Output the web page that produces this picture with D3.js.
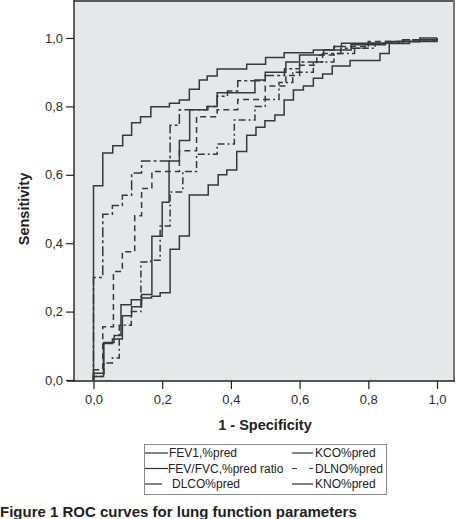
<!DOCTYPE html>
<html>
<head>
<meta charset="utf-8">
<script src="https://cdn.jsdelivr.net/npm/d3@7"></script>
<style>
  body { margin: 0; background: #fff; }
  svg { display: block; font-family: "Liberation Sans", Arial, sans-serif; }
</style>
</head>
<body>
<div id="chart"></div>
<script>
// ROC curves, points are [1 - specificity, sensitivity] after each vertical rise
const seriesNames = ["FEV1,%pred", "FEV/FVC,%pred ratio", "DLCO%pred", "KCO%pred", "DLNO%pred", "KNO%pred"];

const fev1 = [[0,0],[0,0.01],[0.029,0.107],[0.055,0.12],[0.084,0.188],[0.111,0.214],[0.14,0.24],[0.169,0.245],[0.194,0.255],[0.223,0.382],[0.25,0.421],[0.279,0.541],[0.334,0.57],[0.363,0.6],[0.388,0.614],[0.417,0.668],[0.446,0.716],[0.473,0.739],[0.499,0.758],[0.528,0.775],[0.555,0.819],[0.582,0.848],[0.611,0.86],[0.64,0.882],[0.667,0.895],[0.695,0.918],[0.747,0.934],[0.834,0.955],[0.861,0.984],[0.92,0.99],[1,1]];
const fevFvc = [[0,0],[0,0.30],[0.027,0.485],[0.055,0.51],[0.084,0.54],[0.111,0.605],[0.14,0.64],[0.223,0.745],[0.25,0.79],[0.333,0.80],[0.36,0.83],[0.39,0.845],[0.42,0.875],[0.5,0.89],[0.556,0.91],[0.6,0.93],[0.667,0.955],[0.72,0.97],[0.8,0.985],[0.9,0.995],[1,1]];
const dlco = [[0,0],[0,0.02],[0.03,0.11],[0.06,0.13],[0.08,0.22],[0.11,0.235],[0.14,0.25],[0.17,0.42],[0.2,0.52],[0.22,0.64],[0.25,0.70],[0.28,0.79],[0.33,0.80],[0.36,0.84],[0.47,0.877],[0.5,0.90],[0.56,0.93],[0.6,0.95],[0.67,0.965],[0.75,0.98],[0.85,0.99],[0.95,1],[1,1]];
const kco = [[0,0],[0,0.01],[0.03,0.05],[0.055,0.064],[0.075,0.16],[0.11,0.2],[0.138,0.345],[0.167,0.35],[0.194,0.45],[0.223,0.55],[0.26,0.61],[0.3,0.66],[0.36,0.69],[0.41,0.76],[0.47,0.80],[0.5,0.82],[0.54,0.87],[0.58,0.90],[0.64,0.93],[0.7,0.955],[0.76,0.97],[0.82,0.985],[0.9,0.995],[1,1]];
const dlno = [[0,0],[0,0.03],[0.027,0.156],[0.058,0.317],[0.084,0.375],[0.12,0.48],[0.14,0.56],[0.17,0.61],[0.25,0.67],[0.3,0.77],[0.36,0.79],[0.42,0.82],[0.5,0.86],[0.56,0.89],[0.6,0.92],[0.65,0.95],[0.7,0.975],[0.8,0.99],[0.9,0.995],[1,1]];
const kno = [[0,0],[0,0.568],[0.027,0.664],[0.056,0.685],[0.085,0.716],[0.111,0.752],[0.137,0.77],[0.167,0.799],[0.221,0.809],[0.25,0.819],[0.279,0.85],[0.308,0.877],[0.331,0.889],[0.36,0.909],[0.446,0.923],[0.501,0.943],[0.555,0.957],[0.64,0.965],[0.70,0.975],[0.722,0.985],[0.89,0.99],[0.95,0.995],[1,1]];

const seriesValues = [fev1, fevFvc, dlco, kco, dlno, kno];
const tickValues = [0, 0.2, 0.4, 0.6, 0.8, 1.0];

// styles per series (plot dash, legend dash)
const plotDash = [null, "10,3,3,3", null, "7,3,2,3", "6,4", null];
const legendDash = [null, null, null, null, "5,12", null];

const width = 474, height = 519;
const frame = { left: 74, right: 455, top: 0, bottom: 381 };

const svg = d3.select("#chart")
    .append("svg")
    .attr("width", width)
    .attr("height", height);

const x = d3.scaleLinear().domain([0, 1]).range([93.5, 437]);
const y = d3.scaleLinear().domain([0, 1]).range([380, 38]);

const locale = d3.formatLocale({ decimal: ",", thousands: ".", grouping: [3], currency: ["", ""] });
const fmt = locale.format(".1f");

// plot background
svg.append("rect")
    .attr("x", frame.left).attr("y", frame.top)
    .attr("width", frame.right - frame.left)
    .attr("height", frame.bottom - frame.top)
    .attr("fill", "#e6e7e9");

// top and right border (gray)
svg.append("line").attr("x1", frame.left).attr("x2", frame.right)
    .attr("y1", 1).attr("y2", 1).attr("stroke", "#5a5a5a").attr("stroke-width", 2);
svg.append("line").attr("x1", frame.right - 1).attr("x2", frame.right - 1)
    .attr("y1", 0).attr("y2", frame.bottom).attr("stroke", "#777").attr("stroke-width", 2);

// curves
const line = d3.line()
    .x(d => x(d[0]))
    .y(d => y(d[1]))
    .curve(d3.curveStepAfter);

svg.selectAll(".roc")
    .data(seriesValues)
    .enter().append("path")
    .attr("class", "roc")
    .attr("d", line)
    .attr("fill", "none")
    .attr("stroke", "#383838")
    .attr("stroke-width", 1.5)
    .attr("stroke-dasharray", (d, i) => plotDash[i]);

// X axis
const xAxis = svg.append("g")
    .attr("transform", `translate(0,${frame.bottom})`)
    .call(d3.axisBottom(x).tickValues(tickValues).tickFormat(fmt).tickSize(8).tickSizeOuter(0));
xAxis.select(".domain").remove();
xAxis.append("line").attr("x1", 67).attr("x2", frame.right)
    .attr("stroke", "#222").attr("stroke-width", 1.4);

// Y axis
const yAxis = svg.append("g")
    .attr("transform", `translate(${frame.left},0)`)
    .call(d3.axisLeft(y).tickValues(tickValues).tickFormat(fmt).tickSize(8).tickSizeOuter(0));
yAxis.select(".domain").remove();
yAxis.append("line").attr("y1", frame.top).attr("y2", frame.bottom)
    .attr("stroke", "#222").attr("stroke-width", 1.4);

svg.selectAll(".tick line").attr("stroke", "#222").attr("stroke-width", 1.2);
svg.selectAll(".tick text")
    .attr("fill", "#2a2a2a")
    .style("font-size", "13px")
    .style("font-family", "'Liberation Sans', Arial, sans-serif");
xAxis.selectAll(".tick text").attr("dy", "0.95em");
yAxis.selectAll(".tick text").attr("x", -11);

// axis titles
svg.append("text")
    .attr("x", 265).attr("y", 430)
    .attr("text-anchor", "middle")
    .attr("font-weight", "bold").attr("font-size", 14.5)
    .attr("fill", "#222")
    .text("1 - Specificity");

svg.append("text")
    .attr("transform", "translate(29,209) rotate(-90)")
    .attr("text-anchor", "middle")
    .attr("font-weight", "bold").attr("font-size", 14.5)
    .attr("fill", "#222")
    .text("Sensitivity");

// legend
const legend = svg.append("g");
legend.append("rect")
    .attr("x", 144.5).attr("y", 444.5)
    .attr("width", 242).attr("height", 50)
    .attr("fill", "#fff").attr("stroke", "#8a8a8a").attr("stroke-width", 1);

const legendPos = [
    { lx1: 145, lx2: 168, tx: 169, ty: 453 },
    { lx1: 145, lx2: 168, tx: 168, ty: 468.5 },
    { lx1: 145, lx2: 162, tx: 172, ty: 484 },
    { lx1: 292, lx2: 313, tx: 315, ty: 453 },
    { lx1: 292, lx2: 313, tx: 315, ty: 468.5 },
    { lx1: 292, lx2: 313, tx: 315, ty: 484 }
];

seriesNames.forEach((name, i) => {
    const p = legendPos[i];
    legend.append("line")
        .attr("x1", p.lx1).attr("x2", p.lx2)
        .attr("y1", p.ty).attr("y2", p.ty)
        .attr("stroke", "#333").attr("stroke-width", 1.2)
        .attr("stroke-dasharray", legendDash[i]);
    legend.append("text")
        .attr("x", p.tx).attr("y", p.ty)
        .attr("dy", "0.35em")
        .attr("font-size", 12)
        .attr("fill", "#222")
        .text(name);
});

// caption at the bottom edge
svg.append("text")
    .attr("x", 0).attr("y", 517)
    .attr("font-weight", "bold").attr("font-size", 15)
    .attr("fill", "#222")
    .text("Figure 1  ROC curves for lung function parameters");
</script>
</body>
</html>
